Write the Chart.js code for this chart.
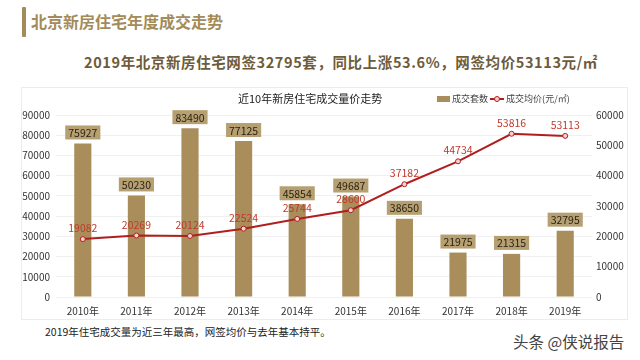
<!DOCTYPE html>
<html>
<head>
<meta charset="utf-8">
<script src="https://cdn.jsdelivr.net/npm/chart.js@4"></script>
<style>
  body { margin: 0; width: 640px; height: 360px; background: #fff; position: relative; overflow: hidden;
         font-family: "Noto Sans CJK SC", "Noto Sans", sans-serif; }
  .bar { position: absolute; left: 22px; top: 7px; width: 4px; height: 30px; background: #a48b5a; border-radius: 1px; }
  .h1 { position: absolute; left: 31px; top: 9px; font-size: 16px; font-weight: bold; color: #a48b5a; line-height: 24px; }
  .h2 { position: absolute; left: 0; width: 682px; top: 50px; text-align: center; font-size: 14.5px; font-weight: bold;
        color: #6e5b3a; letter-spacing: 0.6px; line-height: 24px; }
  .box { position: absolute; left: 21px; top: 87px; width: 607px; height: 233px; border: 1px solid #ececec; box-sizing: border-box; }
  #c { position: absolute; left: 21px; top: 87px; }
  .ct { position: absolute; left: 238px; top: 89px; font-size: 11px; color: #222; line-height: 18px; }
  .lg { position: absolute; left: 437px; top: 90px; font-size: 9px; color: #444; line-height: 16px; }
  .lg span { display: inline-block; vertical-align: middle; }
  .note { position: absolute; left: 45px; top: 324px; font-size: 10.5px; color: #222; line-height: 16px; }
  .wm { position: absolute; left: 513px; top: 331px; font-size: 15.5px; color: #444; line-height: 20px; }
</style>
</head>
<body>
<div class="bar"></div>
<div class="h1">北京新房住宅年度成交走势</div>
<div class="h2">2019年北京新房住宅网签32795套，同比上涨53.6%，网签均价53113元/㎡</div>
<div class="box"></div>
<canvas id="c" width="607" height="233"></canvas>
<div class="ct">近10年新房住宅成交量价走势</div>
<div class="lg"><span style="width:13px;height:6px;background:#a98e5c"></span> <span>成交套数</span>
  <span style="width:14px;height:8px;position:relative"><span style="position:absolute;left:0;top:3px;width:14px;height:2px;background:#b01e1e"></span><span style="position:absolute;left:4px;top:1px;width:4px;height:4px;border:1px solid #b01e1e;border-radius:50%;background:#f6d0d0"></span></span>
  <span>成交均价(元/㎡)</span></div>
<div class="note">2019年住宅成交量为近三年最高，网签均价与去年基本持平。</div>
<div class="wm">头条 @侠说报告</div>
<script>
var years = ["2010年","2011年","2012年","2013年","2014年","2015年","2016年","2017年","2018年","2019年"];
var units = [75927, 50230, 83490, 77125, 45854, 49687, 38650, 21975, 21315, 32795];
var prices = [19082, 20269, 20124, 22524, 25744, 28600, 37182, 44734, 53816, 53113];

var labelPlugin = {
  id: 'vals',
  afterDatasetsDraw: function (chart) {
    var ctx = chart.ctx;
    ctx.save();
    ctx.font = '10.5px "Noto Sans CJK SC", sans-serif';
    ctx.textAlign = 'center';
    ctx.textBaseline = 'middle';
    var bars = chart.getDatasetMeta(0).data;
    bars.forEach(function (b, i) {
      var t = String(units[i]);
      var w = ctx.measureText(t).width + 6;
      var cy = b.y - 11;
      ctx.fillStyle = '#b6a071';
      ctx.fillRect(b.x - w / 2, cy - 7, w, 14);
      ctx.fillStyle = '#261e12';
      ctx.fillText(t, b.x, cy + 0.5);
    });
    var pts = chart.getDatasetMeta(1).data;
    ctx.fillStyle = '#c0392b';
    pts.forEach(function (p, i) {
      ctx.fillText(String(prices[i]), p.x, p.y - 11);
    });
    ctx.restore();
  }
};

var tickFont = { size: 10, family: '"Noto Sans CJK SC", sans-serif' };
function plain(v) { return String(v); }

new Chart(document.getElementById('c'), {
  data: {
    labels: years,
    datasets: [
      { type: 'bar', label: '成交套数', data: units, backgroundColor: '#a98e5c', yAxisID: 'y',
        barPercentage: 0.32, categoryPercentage: 1, order: 2 },
      { type: 'line', label: '成交均价(元/㎡)', data: prices, borderColor: '#b01e1e', borderWidth: 2,
        pointRadius: 2.5, pointBackgroundColor: '#f6d0d0', pointBorderColor: '#b01e1e', pointBorderWidth: 1,
        tension: 0, yAxisID: 'y1', order: 1 }
    ]
  },
  options: {
    responsive: false,
    animation: false,
    layout: { padding: { top: 28, bottom: 0, left: 0, right: 0 } },
    plugins: { legend: { display: false }, title: { display: false }, tooltip: { enabled: false } },
    scales: {
      x: {
        grid: { display: false }, border: { display: false },
        ticks: { color: '#333', font: tickFont, padding: 0, maxRotation: 0 },
        afterFit: function (s) { s.height = 23; }
      },
      y: {
        position: 'left', min: 0, max: 90000,
        ticks: { stepSize: 10000, color: '#333', font: tickFont, padding: 6, callback: plain },
        grid: { color: '#f0f0f0', drawTicks: false }, border: { display: false },
        afterFit: function (s) { s.width = 35; }
      },
      y1: {
        position: 'right', min: 0, max: 60000,
        ticks: { stepSize: 10000, color: '#333', font: tickFont, padding: 4, callback: plain },
        grid: { display: false, drawTicks: false }, border: { display: false },
        afterFit: function (s) { s.width = 36; }
      }
    }
  },
  plugins: [labelPlugin]
});
</script>
</body>
</html>
